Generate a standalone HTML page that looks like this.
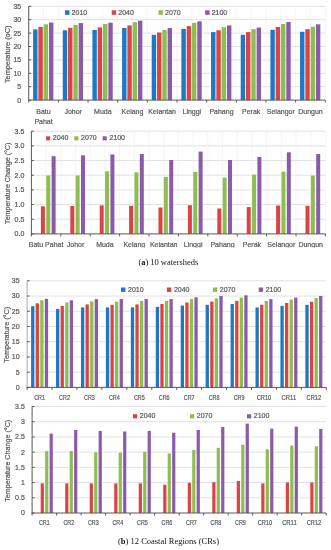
<!DOCTYPE html>
<html><head><meta charset="utf-8"><title>Temperature charts</title>
<style>
html,body{margin:0;padding:0;background:#fff;}
body{width:331px;height:550px;overflow:hidden;}
svg{display:block;filter:blur(0.4px);}
svg text{font-family:"Liberation Sans", Arial, sans-serif;}
svg text.t{stroke:#595959;stroke-width:0.2px;}
</style></head>
<body>
<svg width="331" height="550" viewBox="0 0 331 550">
<rect x="0" y="0" width="331" height="550" fill="#fff"/>
<line x1="28.70" y1="86.70" x2="325.30" y2="86.70" stroke="#D9D9D9" stroke-width="0.8"/>
<line x1="28.70" y1="73.30" x2="325.30" y2="73.30" stroke="#D9D9D9" stroke-width="0.8"/>
<line x1="28.70" y1="59.90" x2="325.30" y2="59.90" stroke="#D9D9D9" stroke-width="0.8"/>
<line x1="28.70" y1="46.50" x2="325.30" y2="46.50" stroke="#D9D9D9" stroke-width="0.8"/>
<line x1="28.70" y1="33.10" x2="325.30" y2="33.10" stroke="#D9D9D9" stroke-width="0.8"/>
<line x1="28.70" y1="19.70" x2="325.30" y2="19.70" stroke="#D9D9D9" stroke-width="0.8"/>
<line x1="28.70" y1="6.30" x2="325.30" y2="6.30" stroke="#D9D9D9" stroke-width="0.8"/>
<line x1="43.53" y1="6.30" x2="43.53" y2="100.10" stroke="#EDEDED" stroke-width="0.6"/>
<line x1="58.36" y1="6.30" x2="58.36" y2="100.10" stroke="#EDEDED" stroke-width="0.6"/>
<line x1="73.19" y1="6.30" x2="73.19" y2="100.10" stroke="#EDEDED" stroke-width="0.6"/>
<line x1="88.02" y1="6.30" x2="88.02" y2="100.10" stroke="#EDEDED" stroke-width="0.6"/>
<line x1="102.85" y1="6.30" x2="102.85" y2="100.10" stroke="#EDEDED" stroke-width="0.6"/>
<line x1="117.68" y1="6.30" x2="117.68" y2="100.10" stroke="#EDEDED" stroke-width="0.6"/>
<line x1="132.51" y1="6.30" x2="132.51" y2="100.10" stroke="#EDEDED" stroke-width="0.6"/>
<line x1="147.34" y1="6.30" x2="147.34" y2="100.10" stroke="#EDEDED" stroke-width="0.6"/>
<line x1="162.17" y1="6.30" x2="162.17" y2="100.10" stroke="#EDEDED" stroke-width="0.6"/>
<line x1="177.00" y1="6.30" x2="177.00" y2="100.10" stroke="#EDEDED" stroke-width="0.6"/>
<line x1="191.83" y1="6.30" x2="191.83" y2="100.10" stroke="#EDEDED" stroke-width="0.6"/>
<line x1="206.66" y1="6.30" x2="206.66" y2="100.10" stroke="#EDEDED" stroke-width="0.6"/>
<line x1="221.49" y1="6.30" x2="221.49" y2="100.10" stroke="#EDEDED" stroke-width="0.6"/>
<line x1="236.32" y1="6.30" x2="236.32" y2="100.10" stroke="#EDEDED" stroke-width="0.6"/>
<line x1="251.15" y1="6.30" x2="251.15" y2="100.10" stroke="#EDEDED" stroke-width="0.6"/>
<line x1="265.98" y1="6.30" x2="265.98" y2="100.10" stroke="#EDEDED" stroke-width="0.6"/>
<line x1="280.81" y1="6.30" x2="280.81" y2="100.10" stroke="#EDEDED" stroke-width="0.6"/>
<line x1="295.64" y1="6.30" x2="295.64" y2="100.10" stroke="#EDEDED" stroke-width="0.6"/>
<line x1="310.47" y1="6.30" x2="310.47" y2="100.10" stroke="#EDEDED" stroke-width="0.6"/>
<line x1="325.30" y1="6.30" x2="325.30" y2="100.10" stroke="#EDEDED" stroke-width="0.6"/>
<rect x="33.10" y="29.40" width="4.40" height="70.70" fill="#1E78C3"/>
<rect x="38.40" y="27.00" width="4.40" height="73.10" fill="#DA4444"/>
<rect x="43.70" y="24.30" width="4.40" height="75.80" fill="#8EBE52"/>
<rect x="49.00" y="22.50" width="4.40" height="77.60" fill="#8C5AAA"/>
<rect x="62.76" y="30.30" width="4.40" height="69.80" fill="#1E78C3"/>
<rect x="68.06" y="27.80" width="4.40" height="72.30" fill="#DA4444"/>
<rect x="73.36" y="24.90" width="4.40" height="75.20" fill="#8EBE52"/>
<rect x="78.66" y="23.10" width="4.40" height="77.00" fill="#8C5AAA"/>
<rect x="92.42" y="30.00" width="4.40" height="70.10" fill="#1E78C3"/>
<rect x="97.72" y="27.40" width="4.40" height="72.70" fill="#DA4444"/>
<rect x="103.02" y="24.00" width="4.40" height="76.10" fill="#8EBE52"/>
<rect x="108.32" y="22.70" width="4.40" height="77.40" fill="#8C5AAA"/>
<rect x="122.08" y="28.00" width="4.40" height="72.10" fill="#1E78C3"/>
<rect x="127.38" y="25.40" width="4.40" height="74.70" fill="#DA4444"/>
<rect x="132.68" y="22.20" width="4.40" height="77.90" fill="#8EBE52"/>
<rect x="137.98" y="20.70" width="4.40" height="79.40" fill="#8C5AAA"/>
<rect x="151.74" y="34.80" width="4.40" height="65.30" fill="#1E78C3"/>
<rect x="157.04" y="32.50" width="4.40" height="67.60" fill="#DA4444"/>
<rect x="162.34" y="30.00" width="4.40" height="70.10" fill="#8EBE52"/>
<rect x="167.64" y="28.00" width="4.40" height="72.10" fill="#8C5AAA"/>
<rect x="181.40" y="28.90" width="4.40" height="71.20" fill="#1E78C3"/>
<rect x="186.70" y="26.10" width="4.40" height="74.00" fill="#DA4444"/>
<rect x="192.00" y="22.90" width="4.40" height="77.20" fill="#8EBE52"/>
<rect x="197.30" y="21.30" width="4.40" height="78.80" fill="#8C5AAA"/>
<rect x="211.06" y="32.10" width="4.40" height="68.00" fill="#1E78C3"/>
<rect x="216.36" y="30.30" width="4.40" height="69.80" fill="#DA4444"/>
<rect x="221.66" y="27.20" width="4.40" height="72.90" fill="#8EBE52"/>
<rect x="226.96" y="25.40" width="4.40" height="74.70" fill="#8C5AAA"/>
<rect x="240.72" y="34.80" width="4.40" height="65.30" fill="#1E78C3"/>
<rect x="246.02" y="32.10" width="4.40" height="68.00" fill="#DA4444"/>
<rect x="251.32" y="29.20" width="4.40" height="70.90" fill="#8EBE52"/>
<rect x="256.62" y="27.60" width="4.40" height="72.50" fill="#8C5AAA"/>
<rect x="270.38" y="29.80" width="4.40" height="70.30" fill="#1E78C3"/>
<rect x="275.68" y="27.00" width="4.40" height="73.10" fill="#DA4444"/>
<rect x="280.98" y="24.00" width="4.40" height="76.10" fill="#8EBE52"/>
<rect x="286.28" y="22.00" width="4.40" height="78.10" fill="#8C5AAA"/>
<rect x="300.04" y="31.80" width="4.40" height="68.30" fill="#1E78C3"/>
<rect x="305.34" y="29.20" width="4.40" height="70.90" fill="#DA4444"/>
<rect x="310.64" y="26.70" width="4.40" height="73.40" fill="#8EBE52"/>
<rect x="315.94" y="24.30" width="4.40" height="75.80" fill="#8C5AAA"/>
<line x1="28.70" y1="6.30" x2="28.70" y2="100.60" stroke="#595959" stroke-width="1"/>
<line x1="28.20" y1="100.10" x2="325.30" y2="100.10" stroke="#595959" stroke-width="1"/>
<line x1="28.70" y1="100.10" x2="31.20" y2="100.10" stroke="#595959" stroke-width="1"/>
<line x1="28.70" y1="86.70" x2="31.20" y2="86.70" stroke="#595959" stroke-width="1"/>
<line x1="28.70" y1="73.30" x2="31.20" y2="73.30" stroke="#595959" stroke-width="1"/>
<line x1="28.70" y1="59.90" x2="31.20" y2="59.90" stroke="#595959" stroke-width="1"/>
<line x1="28.70" y1="46.50" x2="31.20" y2="46.50" stroke="#595959" stroke-width="1"/>
<line x1="28.70" y1="33.10" x2="31.20" y2="33.10" stroke="#595959" stroke-width="1"/>
<line x1="28.70" y1="19.70" x2="31.20" y2="19.70" stroke="#595959" stroke-width="1"/>
<line x1="28.70" y1="6.30" x2="31.20" y2="6.30" stroke="#595959" stroke-width="1"/>
<line x1="28.70" y1="100.10" x2="28.70" y2="102.60" stroke="#595959" stroke-width="1"/>
<line x1="58.36" y1="100.10" x2="58.36" y2="102.60" stroke="#595959" stroke-width="1"/>
<line x1="88.02" y1="100.10" x2="88.02" y2="102.60" stroke="#595959" stroke-width="1"/>
<line x1="117.68" y1="100.10" x2="117.68" y2="102.60" stroke="#595959" stroke-width="1"/>
<line x1="147.34" y1="100.10" x2="147.34" y2="102.60" stroke="#595959" stroke-width="1"/>
<line x1="177.00" y1="100.10" x2="177.00" y2="102.60" stroke="#595959" stroke-width="1"/>
<line x1="206.66" y1="100.10" x2="206.66" y2="102.60" stroke="#595959" stroke-width="1"/>
<line x1="236.32" y1="100.10" x2="236.32" y2="102.60" stroke="#595959" stroke-width="1"/>
<line x1="265.98" y1="100.10" x2="265.98" y2="102.60" stroke="#595959" stroke-width="1"/>
<line x1="295.64" y1="100.10" x2="295.64" y2="102.60" stroke="#595959" stroke-width="1"/>
<line x1="325.30" y1="100.10" x2="325.30" y2="102.60" stroke="#595959" stroke-width="1"/>
<text class="t" x="21.20" y="102.50" font-size="7" text-anchor="end" fill="#595959">0</text>
<text class="t" x="21.20" y="89.10" font-size="7" text-anchor="end" fill="#595959">5</text>
<text class="t" x="21.20" y="75.70" font-size="7" text-anchor="end" fill="#595959">10</text>
<text class="t" x="21.20" y="62.30" font-size="7" text-anchor="end" fill="#595959">15</text>
<text class="t" x="21.20" y="48.90" font-size="7" text-anchor="end" fill="#595959">20</text>
<text class="t" x="21.20" y="35.50" font-size="7" text-anchor="end" fill="#595959">25</text>
<text class="t" x="21.20" y="22.10" font-size="7" text-anchor="end" fill="#595959">30</text>
<text class="t" x="21.20" y="8.70" font-size="7" text-anchor="end" fill="#595959">35</text>
<text class="t" x="43.53" y="113.90" font-size="7" text-anchor="middle" fill="#595959">Batu</text>
<text class="t" x="43.53" y="123.70" font-size="7" text-anchor="middle" fill="#595959">Pahat</text>
<text class="t" x="73.19" y="113.90" font-size="7" text-anchor="middle" fill="#595959">Johor</text>
<text class="t" x="102.85" y="113.90" font-size="7" text-anchor="middle" fill="#595959">Muda</text>
<text class="t" x="132.51" y="113.90" font-size="7" text-anchor="middle" fill="#595959">Kelang</text>
<text class="t" x="162.17" y="113.90" font-size="7" text-anchor="middle" fill="#595959">Kelantan</text>
<text class="t" x="191.83" y="113.90" font-size="7" text-anchor="middle" fill="#595959">Linggi</text>
<text class="t" x="221.49" y="113.90" font-size="7" text-anchor="middle" fill="#595959">Pahang</text>
<text class="t" x="251.15" y="113.90" font-size="7" text-anchor="middle" fill="#595959">Perak</text>
<text class="t" x="280.81" y="113.90" font-size="7" text-anchor="middle" fill="#595959">Selangor</text>
<text class="t" x="310.47" y="113.90" font-size="7" text-anchor="middle" fill="#595959">Dungun</text>
<rect x="65.00" y="10.30" width="4.50" height="4.50" fill="#1E78C3"/>
<text class="t" x="71.60" y="14.90" font-size="7" text-anchor="start" fill="#595959">2010</text>
<rect x="111.70" y="10.30" width="4.50" height="4.50" fill="#DA4444"/>
<text class="t" x="118.30" y="14.90" font-size="7" text-anchor="start" fill="#595959">2040</text>
<rect x="158.40" y="10.30" width="4.50" height="4.50" fill="#8EBE52"/>
<text class="t" x="165.00" y="14.90" font-size="7" text-anchor="start" fill="#595959">2070</text>
<rect x="205.10" y="10.30" width="4.50" height="4.50" fill="#8C5AAA"/>
<text class="t" x="211.70" y="14.90" font-size="7" text-anchor="start" fill="#595959">2100</text>
<text class="t" transform="translate(9.70,54.35) rotate(-90)" x="0" y="0" font-size="6.5" text-anchor="middle" fill="#595959" textLength="57.50" lengthAdjust="spacingAndGlyphs">Temperature (oC)</text>
<line x1="31.40" y1="219.23" x2="325.40" y2="219.23" stroke="#D9D9D9" stroke-width="0.8"/>
<line x1="31.40" y1="204.56" x2="325.40" y2="204.56" stroke="#D9D9D9" stroke-width="0.8"/>
<line x1="31.40" y1="189.89" x2="325.40" y2="189.89" stroke="#D9D9D9" stroke-width="0.8"/>
<line x1="31.40" y1="175.21" x2="325.40" y2="175.21" stroke="#D9D9D9" stroke-width="0.8"/>
<line x1="31.40" y1="160.54" x2="325.40" y2="160.54" stroke="#D9D9D9" stroke-width="0.8"/>
<line x1="31.40" y1="145.87" x2="325.40" y2="145.87" stroke="#D9D9D9" stroke-width="0.8"/>
<line x1="31.40" y1="131.20" x2="325.40" y2="131.20" stroke="#D9D9D9" stroke-width="0.8"/>
<line x1="46.10" y1="131.20" x2="46.10" y2="233.90" stroke="#EDEDED" stroke-width="0.6"/>
<line x1="60.80" y1="131.20" x2="60.80" y2="233.90" stroke="#EDEDED" stroke-width="0.6"/>
<line x1="75.50" y1="131.20" x2="75.50" y2="233.90" stroke="#EDEDED" stroke-width="0.6"/>
<line x1="90.20" y1="131.20" x2="90.20" y2="233.90" stroke="#EDEDED" stroke-width="0.6"/>
<line x1="104.90" y1="131.20" x2="104.90" y2="233.90" stroke="#EDEDED" stroke-width="0.6"/>
<line x1="119.60" y1="131.20" x2="119.60" y2="233.90" stroke="#EDEDED" stroke-width="0.6"/>
<line x1="134.30" y1="131.20" x2="134.30" y2="233.90" stroke="#EDEDED" stroke-width="0.6"/>
<line x1="149.00" y1="131.20" x2="149.00" y2="233.90" stroke="#EDEDED" stroke-width="0.6"/>
<line x1="163.70" y1="131.20" x2="163.70" y2="233.90" stroke="#EDEDED" stroke-width="0.6"/>
<line x1="178.40" y1="131.20" x2="178.40" y2="233.90" stroke="#EDEDED" stroke-width="0.6"/>
<line x1="193.10" y1="131.20" x2="193.10" y2="233.90" stroke="#EDEDED" stroke-width="0.6"/>
<line x1="207.80" y1="131.20" x2="207.80" y2="233.90" stroke="#EDEDED" stroke-width="0.6"/>
<line x1="222.50" y1="131.20" x2="222.50" y2="233.90" stroke="#EDEDED" stroke-width="0.6"/>
<line x1="237.20" y1="131.20" x2="237.20" y2="233.90" stroke="#EDEDED" stroke-width="0.6"/>
<line x1="251.90" y1="131.20" x2="251.90" y2="233.90" stroke="#EDEDED" stroke-width="0.6"/>
<line x1="266.60" y1="131.20" x2="266.60" y2="233.90" stroke="#EDEDED" stroke-width="0.6"/>
<line x1="281.30" y1="131.20" x2="281.30" y2="233.90" stroke="#EDEDED" stroke-width="0.6"/>
<line x1="296.00" y1="131.20" x2="296.00" y2="233.90" stroke="#EDEDED" stroke-width="0.6"/>
<line x1="310.70" y1="131.20" x2="310.70" y2="233.90" stroke="#EDEDED" stroke-width="0.6"/>
<line x1="325.40" y1="131.20" x2="325.40" y2="233.90" stroke="#EDEDED" stroke-width="0.6"/>
<rect x="40.90" y="206.30" width="4.00" height="27.60" fill="#DA4444"/>
<rect x="46.25" y="175.50" width="4.00" height="58.40" fill="#8EBE52"/>
<rect x="51.60" y="156.20" width="4.00" height="77.70" fill="#8C5AAA"/>
<rect x="70.30" y="206.00" width="4.00" height="27.90" fill="#DA4444"/>
<rect x="75.65" y="175.50" width="4.00" height="58.40" fill="#8EBE52"/>
<rect x="81.00" y="155.30" width="4.00" height="78.60" fill="#8C5AAA"/>
<rect x="99.70" y="205.40" width="4.00" height="28.50" fill="#DA4444"/>
<rect x="105.05" y="171.30" width="4.00" height="62.60" fill="#8EBE52"/>
<rect x="110.40" y="154.40" width="4.00" height="79.50" fill="#8C5AAA"/>
<rect x="129.10" y="205.80" width="4.00" height="28.10" fill="#DA4444"/>
<rect x="134.45" y="172.30" width="4.00" height="61.60" fill="#8EBE52"/>
<rect x="139.80" y="154.00" width="4.00" height="79.90" fill="#8C5AAA"/>
<rect x="158.50" y="207.50" width="4.00" height="26.40" fill="#DA4444"/>
<rect x="163.85" y="176.90" width="4.00" height="57.00" fill="#8EBE52"/>
<rect x="169.20" y="160.00" width="4.00" height="73.90" fill="#8C5AAA"/>
<rect x="187.90" y="205.20" width="4.00" height="28.70" fill="#DA4444"/>
<rect x="193.25" y="171.90" width="4.00" height="62.00" fill="#8EBE52"/>
<rect x="198.60" y="151.60" width="4.00" height="82.30" fill="#8C5AAA"/>
<rect x="217.30" y="208.50" width="4.00" height="25.40" fill="#DA4444"/>
<rect x="222.65" y="177.60" width="4.00" height="56.30" fill="#8EBE52"/>
<rect x="228.00" y="160.00" width="4.00" height="73.90" fill="#8C5AAA"/>
<rect x="246.70" y="207.10" width="4.00" height="26.80" fill="#DA4444"/>
<rect x="252.05" y="174.60" width="4.00" height="59.30" fill="#8EBE52"/>
<rect x="257.40" y="157.00" width="4.00" height="76.90" fill="#8C5AAA"/>
<rect x="276.10" y="205.50" width="4.00" height="28.40" fill="#DA4444"/>
<rect x="281.45" y="171.60" width="4.00" height="62.30" fill="#8EBE52"/>
<rect x="286.80" y="152.30" width="4.00" height="81.60" fill="#8C5AAA"/>
<rect x="305.50" y="205.80" width="4.00" height="28.10" fill="#DA4444"/>
<rect x="310.85" y="175.60" width="4.00" height="58.30" fill="#8EBE52"/>
<rect x="316.20" y="154.00" width="4.00" height="79.90" fill="#8C5AAA"/>
<line x1="31.40" y1="131.20" x2="31.40" y2="234.40" stroke="#595959" stroke-width="1"/>
<line x1="30.90" y1="233.90" x2="325.40" y2="233.90" stroke="#595959" stroke-width="1"/>
<line x1="31.40" y1="233.90" x2="33.90" y2="233.90" stroke="#595959" stroke-width="1"/>
<line x1="31.40" y1="219.23" x2="33.90" y2="219.23" stroke="#595959" stroke-width="1"/>
<line x1="31.40" y1="204.56" x2="33.90" y2="204.56" stroke="#595959" stroke-width="1"/>
<line x1="31.40" y1="189.89" x2="33.90" y2="189.89" stroke="#595959" stroke-width="1"/>
<line x1="31.40" y1="175.21" x2="33.90" y2="175.21" stroke="#595959" stroke-width="1"/>
<line x1="31.40" y1="160.54" x2="33.90" y2="160.54" stroke="#595959" stroke-width="1"/>
<line x1="31.40" y1="145.87" x2="33.90" y2="145.87" stroke="#595959" stroke-width="1"/>
<line x1="31.40" y1="131.20" x2="33.90" y2="131.20" stroke="#595959" stroke-width="1"/>
<line x1="31.40" y1="233.90" x2="31.40" y2="236.40" stroke="#595959" stroke-width="1"/>
<line x1="60.80" y1="233.90" x2="60.80" y2="236.40" stroke="#595959" stroke-width="1"/>
<line x1="90.20" y1="233.90" x2="90.20" y2="236.40" stroke="#595959" stroke-width="1"/>
<line x1="119.60" y1="233.90" x2="119.60" y2="236.40" stroke="#595959" stroke-width="1"/>
<line x1="149.00" y1="233.90" x2="149.00" y2="236.40" stroke="#595959" stroke-width="1"/>
<line x1="178.40" y1="233.90" x2="178.40" y2="236.40" stroke="#595959" stroke-width="1"/>
<line x1="207.80" y1="233.90" x2="207.80" y2="236.40" stroke="#595959" stroke-width="1"/>
<line x1="237.20" y1="233.90" x2="237.20" y2="236.40" stroke="#595959" stroke-width="1"/>
<line x1="266.60" y1="233.90" x2="266.60" y2="236.40" stroke="#595959" stroke-width="1"/>
<line x1="296.00" y1="233.90" x2="296.00" y2="236.40" stroke="#595959" stroke-width="1"/>
<line x1="325.40" y1="233.90" x2="325.40" y2="236.40" stroke="#595959" stroke-width="1"/>
<text class="t" x="24.30" y="236.30" font-size="7" text-anchor="end" fill="#595959">0.0</text>
<text class="t" x="24.30" y="221.63" font-size="7" text-anchor="end" fill="#595959">0.5</text>
<text class="t" x="24.30" y="206.96" font-size="7" text-anchor="end" fill="#595959">1.0</text>
<text class="t" x="24.30" y="192.29" font-size="7" text-anchor="end" fill="#595959">1.5</text>
<text class="t" x="24.30" y="177.61" font-size="7" text-anchor="end" fill="#595959">2.0</text>
<text class="t" x="24.30" y="162.94" font-size="7" text-anchor="end" fill="#595959">2.5</text>
<text class="t" x="24.30" y="148.27" font-size="7" text-anchor="end" fill="#595959">3.0</text>
<text class="t" x="24.30" y="133.60" font-size="7" text-anchor="end" fill="#595959">3.5</text>
<clipPath id="c2"><rect x="0" y="236" width="331" height="11.5"/></clipPath><g clip-path="url(#c2)">
<text class="t" x="46.10" y="247.20" font-size="7" text-anchor="middle" fill="#595959">Batu Pahat</text>
<text class="t" x="75.50" y="247.20" font-size="7" text-anchor="middle" fill="#595959">Johor</text>
<text class="t" x="104.90" y="247.20" font-size="7" text-anchor="middle" fill="#595959">Muda</text>
<text class="t" x="134.30" y="247.20" font-size="7" text-anchor="middle" fill="#595959">Kelang</text>
<text class="t" x="163.70" y="247.20" font-size="7" text-anchor="middle" fill="#595959">Kelantan</text>
<text class="t" x="193.10" y="247.20" font-size="7" text-anchor="middle" fill="#595959">Linggi</text>
<text class="t" x="222.50" y="247.20" font-size="7" text-anchor="middle" fill="#595959">Pahang</text>
<text class="t" x="251.90" y="247.20" font-size="7" text-anchor="middle" fill="#595959">Perak</text>
<text class="t" x="281.30" y="247.20" font-size="7" text-anchor="middle" fill="#595959">Selangor</text>
<text class="t" x="310.70" y="247.20" font-size="7" text-anchor="middle" fill="#595959">Dungun</text>
</g>
<rect x="40.00" y="132.00" width="91.00" height="12.00" fill="#fff"/>
<rect x="46.00" y="136.30" width="4.10" height="4.10" fill="#DA4444"/>
<text class="t" x="52.80" y="140.40" font-size="7" text-anchor="start" fill="#595959">2040</text>
<rect x="74.30" y="136.30" width="4.10" height="4.10" fill="#8EBE52"/>
<text class="t" x="81.10" y="140.40" font-size="7" text-anchor="start" fill="#595959">2070</text>
<rect x="102.60" y="136.30" width="4.10" height="4.10" fill="#8C5AAA"/>
<text class="t" x="109.40" y="140.40" font-size="7" text-anchor="start" fill="#595959">2100</text>
<text class="t" transform="translate(9.50,183.30) rotate(-90)" x="0" y="0" font-size="6.5" text-anchor="middle" fill="#595959" textLength="81.20" lengthAdjust="spacingAndGlyphs">Temperature Change (°C)</text>
<line x1="27.10" y1="372.17" x2="326.30" y2="372.17" stroke="#D9D9D9" stroke-width="0.8"/>
<line x1="27.10" y1="356.94" x2="326.30" y2="356.94" stroke="#D9D9D9" stroke-width="0.8"/>
<line x1="27.10" y1="341.71" x2="326.30" y2="341.71" stroke="#D9D9D9" stroke-width="0.8"/>
<line x1="27.10" y1="326.49" x2="326.30" y2="326.49" stroke="#D9D9D9" stroke-width="0.8"/>
<line x1="27.10" y1="311.26" x2="326.30" y2="311.26" stroke="#D9D9D9" stroke-width="0.8"/>
<line x1="27.10" y1="296.03" x2="326.30" y2="296.03" stroke="#D9D9D9" stroke-width="0.8"/>
<line x1="27.10" y1="280.80" x2="326.30" y2="280.80" stroke="#D9D9D9" stroke-width="0.8"/>
<rect x="31.10" y="306.20" width="3.30" height="81.20" fill="#1E78C3"/>
<rect x="35.67" y="303.30" width="3.30" height="84.10" fill="#DA4444"/>
<rect x="40.24" y="300.30" width="3.30" height="87.10" fill="#8EBE52"/>
<rect x="44.81" y="298.80" width="3.30" height="88.60" fill="#8C5AAA"/>
<rect x="56.03" y="308.90" width="3.30" height="78.50" fill="#1E78C3"/>
<rect x="60.60" y="305.90" width="3.30" height="81.50" fill="#DA4444"/>
<rect x="65.17" y="302.50" width="3.30" height="84.90" fill="#8EBE52"/>
<rect x="69.74" y="300.30" width="3.30" height="87.10" fill="#8C5AAA"/>
<rect x="80.97" y="307.40" width="3.30" height="80.00" fill="#1E78C3"/>
<rect x="85.54" y="304.40" width="3.30" height="83.00" fill="#DA4444"/>
<rect x="90.11" y="301.30" width="3.30" height="86.10" fill="#8EBE52"/>
<rect x="94.68" y="299.10" width="3.30" height="88.30" fill="#8C5AAA"/>
<rect x="105.90" y="307.40" width="3.30" height="80.00" fill="#1E78C3"/>
<rect x="110.47" y="304.80" width="3.30" height="82.60" fill="#DA4444"/>
<rect x="115.04" y="301.80" width="3.30" height="85.60" fill="#8EBE52"/>
<rect x="119.61" y="299.10" width="3.30" height="88.30" fill="#8C5AAA"/>
<rect x="130.83" y="307.40" width="3.30" height="80.00" fill="#1E78C3"/>
<rect x="135.40" y="304.40" width="3.30" height="83.00" fill="#DA4444"/>
<rect x="139.97" y="301.00" width="3.30" height="86.40" fill="#8EBE52"/>
<rect x="144.54" y="299.10" width="3.30" height="88.30" fill="#8C5AAA"/>
<rect x="155.77" y="306.90" width="3.30" height="80.50" fill="#1E78C3"/>
<rect x="160.34" y="304.00" width="3.30" height="83.40" fill="#DA4444"/>
<rect x="164.91" y="301.00" width="3.30" height="86.40" fill="#8EBE52"/>
<rect x="169.48" y="299.10" width="3.30" height="88.30" fill="#8C5AAA"/>
<rect x="180.70" y="305.60" width="3.30" height="81.80" fill="#1E78C3"/>
<rect x="185.27" y="302.50" width="3.30" height="84.90" fill="#DA4444"/>
<rect x="189.84" y="299.10" width="3.30" height="88.30" fill="#8EBE52"/>
<rect x="194.41" y="297.30" width="3.30" height="90.10" fill="#8C5AAA"/>
<rect x="205.63" y="304.80" width="3.30" height="82.60" fill="#1E78C3"/>
<rect x="210.20" y="301.60" width="3.30" height="85.80" fill="#DA4444"/>
<rect x="214.77" y="298.30" width="3.30" height="89.10" fill="#8EBE52"/>
<rect x="219.34" y="296.00" width="3.30" height="91.40" fill="#8C5AAA"/>
<rect x="230.57" y="304.00" width="3.30" height="83.40" fill="#1E78C3"/>
<rect x="235.14" y="300.90" width="3.30" height="86.50" fill="#DA4444"/>
<rect x="239.71" y="297.60" width="3.30" height="89.80" fill="#8EBE52"/>
<rect x="244.28" y="295.30" width="3.30" height="92.10" fill="#8C5AAA"/>
<rect x="255.50" y="307.40" width="3.30" height="80.00" fill="#1E78C3"/>
<rect x="260.07" y="304.80" width="3.30" height="82.60" fill="#DA4444"/>
<rect x="264.64" y="301.00" width="3.30" height="86.40" fill="#8EBE52"/>
<rect x="269.21" y="299.10" width="3.30" height="88.30" fill="#8C5AAA"/>
<rect x="280.43" y="305.90" width="3.30" height="81.50" fill="#1E78C3"/>
<rect x="285.00" y="303.00" width="3.30" height="84.40" fill="#DA4444"/>
<rect x="289.57" y="299.60" width="3.30" height="87.80" fill="#8EBE52"/>
<rect x="294.14" y="297.60" width="3.30" height="89.80" fill="#8C5AAA"/>
<rect x="305.37" y="304.80" width="3.30" height="82.60" fill="#1E78C3"/>
<rect x="309.94" y="301.80" width="3.30" height="85.60" fill="#DA4444"/>
<rect x="314.51" y="298.10" width="3.30" height="89.30" fill="#8EBE52"/>
<rect x="319.08" y="296.00" width="3.30" height="91.40" fill="#8C5AAA"/>
<line x1="27.10" y1="280.80" x2="27.10" y2="387.90" stroke="#A6A6A6" stroke-width="1"/>
<line x1="26.60" y1="387.40" x2="326.30" y2="387.40" stroke="#595959" stroke-width="1"/>
<line x1="27.10" y1="387.40" x2="29.60" y2="387.40" stroke="#595959" stroke-width="1"/>
<line x1="27.10" y1="372.17" x2="29.60" y2="372.17" stroke="#595959" stroke-width="1"/>
<line x1="27.10" y1="356.94" x2="29.60" y2="356.94" stroke="#595959" stroke-width="1"/>
<line x1="27.10" y1="341.71" x2="29.60" y2="341.71" stroke="#595959" stroke-width="1"/>
<line x1="27.10" y1="326.49" x2="29.60" y2="326.49" stroke="#595959" stroke-width="1"/>
<line x1="27.10" y1="311.26" x2="29.60" y2="311.26" stroke="#595959" stroke-width="1"/>
<line x1="27.10" y1="296.03" x2="29.60" y2="296.03" stroke="#595959" stroke-width="1"/>
<line x1="27.10" y1="280.80" x2="29.60" y2="280.80" stroke="#595959" stroke-width="1"/>
<line x1="27.10" y1="387.40" x2="27.10" y2="389.90" stroke="#595959" stroke-width="1"/>
<line x1="52.03" y1="387.40" x2="52.03" y2="389.90" stroke="#595959" stroke-width="1"/>
<line x1="76.97" y1="387.40" x2="76.97" y2="389.90" stroke="#595959" stroke-width="1"/>
<line x1="101.90" y1="387.40" x2="101.90" y2="389.90" stroke="#595959" stroke-width="1"/>
<line x1="126.83" y1="387.40" x2="126.83" y2="389.90" stroke="#595959" stroke-width="1"/>
<line x1="151.77" y1="387.40" x2="151.77" y2="389.90" stroke="#595959" stroke-width="1"/>
<line x1="176.70" y1="387.40" x2="176.70" y2="389.90" stroke="#595959" stroke-width="1"/>
<line x1="201.63" y1="387.40" x2="201.63" y2="389.90" stroke="#595959" stroke-width="1"/>
<line x1="226.57" y1="387.40" x2="226.57" y2="389.90" stroke="#595959" stroke-width="1"/>
<line x1="251.50" y1="387.40" x2="251.50" y2="389.90" stroke="#595959" stroke-width="1"/>
<line x1="276.43" y1="387.40" x2="276.43" y2="389.90" stroke="#595959" stroke-width="1"/>
<line x1="301.37" y1="387.40" x2="301.37" y2="389.90" stroke="#595959" stroke-width="1"/>
<line x1="326.30" y1="387.40" x2="326.30" y2="389.90" stroke="#595959" stroke-width="1"/>
<text class="t" x="19.60" y="389.80" font-size="7" text-anchor="end" fill="#595959">0</text>
<text class="t" x="19.60" y="374.57" font-size="7" text-anchor="end" fill="#595959">5</text>
<text class="t" x="19.60" y="359.34" font-size="7" text-anchor="end" fill="#595959">10</text>
<text class="t" x="19.60" y="344.11" font-size="7" text-anchor="end" fill="#595959">15</text>
<text class="t" x="19.60" y="328.89" font-size="7" text-anchor="end" fill="#595959">20</text>
<text class="t" x="19.60" y="313.66" font-size="7" text-anchor="end" fill="#595959">25</text>
<text class="t" x="19.60" y="298.43" font-size="7" text-anchor="end" fill="#595959">30</text>
<text class="t" x="19.60" y="283.20" font-size="7" text-anchor="end" fill="#595959">35</text>
<text class="t" x="39.57" y="399.50" font-size="6.7" text-anchor="middle" fill="#595959" textLength="10.80" lengthAdjust="spacingAndGlyphs">CR1</text>
<text class="t" x="64.50" y="399.50" font-size="6.7" text-anchor="middle" fill="#595959" textLength="10.80" lengthAdjust="spacingAndGlyphs">CR2</text>
<text class="t" x="89.43" y="399.50" font-size="6.7" text-anchor="middle" fill="#595959" textLength="10.80" lengthAdjust="spacingAndGlyphs">CR3</text>
<text class="t" x="114.37" y="399.50" font-size="6.7" text-anchor="middle" fill="#595959" textLength="10.80" lengthAdjust="spacingAndGlyphs">CR4</text>
<text class="t" x="139.30" y="399.50" font-size="6.7" text-anchor="middle" fill="#595959" textLength="10.80" lengthAdjust="spacingAndGlyphs">CR5</text>
<text class="t" x="164.23" y="399.50" font-size="6.7" text-anchor="middle" fill="#595959" textLength="10.80" lengthAdjust="spacingAndGlyphs">CR6</text>
<text class="t" x="189.17" y="399.50" font-size="6.7" text-anchor="middle" fill="#595959" textLength="10.80" lengthAdjust="spacingAndGlyphs">CR7</text>
<text class="t" x="214.10" y="399.50" font-size="6.7" text-anchor="middle" fill="#595959" textLength="10.80" lengthAdjust="spacingAndGlyphs">CR8</text>
<text class="t" x="239.03" y="399.50" font-size="6.7" text-anchor="middle" fill="#595959" textLength="10.80" lengthAdjust="spacingAndGlyphs">CR9</text>
<text class="t" x="263.97" y="399.50" font-size="6.7" text-anchor="middle" fill="#595959" textLength="14.60" lengthAdjust="spacingAndGlyphs">CR10</text>
<text class="t" x="288.90" y="399.50" font-size="6.7" text-anchor="middle" fill="#595959" textLength="14.60" lengthAdjust="spacingAndGlyphs">CR11</text>
<text class="t" x="313.83" y="399.50" font-size="6.7" text-anchor="middle" fill="#595959" textLength="14.60" lengthAdjust="spacingAndGlyphs">CR12</text>
<rect x="121.00" y="287.50" width="4.40" height="4.40" fill="#1E78C3"/>
<text class="t" x="128.00" y="292.20" font-size="7" text-anchor="start" fill="#595959">2010</text>
<rect x="166.90" y="287.50" width="4.40" height="4.40" fill="#DA4444"/>
<text class="t" x="173.90" y="292.20" font-size="7" text-anchor="start" fill="#595959">2040</text>
<rect x="212.80" y="287.50" width="4.40" height="4.40" fill="#8EBE52"/>
<text class="t" x="219.80" y="292.20" font-size="7" text-anchor="start" fill="#595959">2070</text>
<rect x="258.70" y="287.50" width="4.40" height="4.40" fill="#8C5AAA"/>
<text class="t" x="265.70" y="292.20" font-size="7" text-anchor="start" fill="#595959">2100</text>
<text class="t" transform="translate(9.00,334.75) rotate(-90)" x="0" y="0" font-size="6.6" text-anchor="middle" fill="#595959" textLength="55.90" lengthAdjust="spacingAndGlyphs">Temperature (°C)</text>
<line x1="32.10" y1="497.79" x2="326.20" y2="497.79" stroke="#D9D9D9" stroke-width="0.8"/>
<line x1="32.10" y1="482.57" x2="326.20" y2="482.57" stroke="#D9D9D9" stroke-width="0.8"/>
<line x1="32.10" y1="467.36" x2="326.20" y2="467.36" stroke="#D9D9D9" stroke-width="0.8"/>
<line x1="32.10" y1="452.14" x2="326.20" y2="452.14" stroke="#D9D9D9" stroke-width="0.8"/>
<line x1="32.10" y1="436.93" x2="326.20" y2="436.93" stroke="#D9D9D9" stroke-width="0.8"/>
<line x1="32.10" y1="421.71" x2="326.20" y2="421.71" stroke="#D9D9D9" stroke-width="0.8"/>
<line x1="32.10" y1="406.50" x2="326.20" y2="406.50" stroke="#D9D9D9" stroke-width="0.8"/>
<rect x="40.70" y="483.40" width="3.20" height="29.60" fill="#DA4444"/>
<rect x="45.15" y="451.10" width="3.20" height="61.90" fill="#8EBE52"/>
<rect x="49.60" y="433.60" width="3.20" height="79.40" fill="#8C5AAA"/>
<rect x="65.21" y="483.40" width="3.20" height="29.60" fill="#DA4444"/>
<rect x="69.66" y="451.10" width="3.20" height="61.90" fill="#8EBE52"/>
<rect x="74.11" y="430.00" width="3.20" height="83.00" fill="#8C5AAA"/>
<rect x="89.72" y="483.40" width="3.20" height="29.60" fill="#DA4444"/>
<rect x="94.17" y="452.30" width="3.20" height="60.70" fill="#8EBE52"/>
<rect x="98.62" y="430.90" width="3.20" height="82.10" fill="#8C5AAA"/>
<rect x="114.23" y="483.40" width="3.20" height="29.60" fill="#DA4444"/>
<rect x="118.68" y="452.60" width="3.20" height="60.40" fill="#8EBE52"/>
<rect x="123.12" y="431.50" width="3.20" height="81.50" fill="#8C5AAA"/>
<rect x="138.73" y="483.40" width="3.20" height="29.60" fill="#DA4444"/>
<rect x="143.18" y="451.70" width="3.20" height="61.30" fill="#8EBE52"/>
<rect x="147.63" y="430.90" width="3.20" height="82.10" fill="#8C5AAA"/>
<rect x="163.24" y="484.70" width="3.20" height="28.30" fill="#DA4444"/>
<rect x="167.69" y="453.50" width="3.20" height="59.50" fill="#8EBE52"/>
<rect x="172.14" y="432.70" width="3.20" height="80.30" fill="#8C5AAA"/>
<rect x="187.75" y="482.80" width="3.20" height="30.20" fill="#DA4444"/>
<rect x="192.20" y="449.90" width="3.20" height="63.10" fill="#8EBE52"/>
<rect x="196.65" y="430.00" width="3.20" height="83.00" fill="#8C5AAA"/>
<rect x="212.26" y="482.20" width="3.20" height="30.80" fill="#DA4444"/>
<rect x="216.71" y="447.80" width="3.20" height="65.20" fill="#8EBE52"/>
<rect x="221.16" y="427.00" width="3.20" height="86.00" fill="#8C5AAA"/>
<rect x="236.77" y="481.00" width="3.20" height="32.00" fill="#DA4444"/>
<rect x="241.22" y="444.70" width="3.20" height="68.30" fill="#8EBE52"/>
<rect x="245.67" y="423.60" width="3.20" height="89.40" fill="#8C5AAA"/>
<rect x="261.27" y="483.40" width="3.20" height="29.60" fill="#DA4444"/>
<rect x="265.72" y="449.30" width="3.20" height="63.70" fill="#8EBE52"/>
<rect x="270.17" y="428.70" width="3.20" height="84.30" fill="#8C5AAA"/>
<rect x="285.78" y="482.50" width="3.20" height="30.50" fill="#DA4444"/>
<rect x="290.23" y="445.60" width="3.20" height="67.40" fill="#8EBE52"/>
<rect x="294.68" y="426.60" width="3.20" height="86.40" fill="#8C5AAA"/>
<rect x="310.29" y="482.50" width="3.20" height="30.50" fill="#DA4444"/>
<rect x="314.74" y="446.30" width="3.20" height="66.70" fill="#8EBE52"/>
<rect x="319.19" y="429.00" width="3.20" height="84.00" fill="#8C5AAA"/>
<line x1="32.10" y1="406.50" x2="32.10" y2="513.50" stroke="#595959" stroke-width="1"/>
<line x1="31.60" y1="513.00" x2="326.20" y2="513.00" stroke="#595959" stroke-width="1"/>
<line x1="32.10" y1="513.00" x2="34.60" y2="513.00" stroke="#595959" stroke-width="1"/>
<line x1="32.10" y1="497.79" x2="34.60" y2="497.79" stroke="#595959" stroke-width="1"/>
<line x1="32.10" y1="482.57" x2="34.60" y2="482.57" stroke="#595959" stroke-width="1"/>
<line x1="32.10" y1="467.36" x2="34.60" y2="467.36" stroke="#595959" stroke-width="1"/>
<line x1="32.10" y1="452.14" x2="34.60" y2="452.14" stroke="#595959" stroke-width="1"/>
<line x1="32.10" y1="436.93" x2="34.60" y2="436.93" stroke="#595959" stroke-width="1"/>
<line x1="32.10" y1="421.71" x2="34.60" y2="421.71" stroke="#595959" stroke-width="1"/>
<line x1="32.10" y1="406.50" x2="34.60" y2="406.50" stroke="#595959" stroke-width="1"/>
<line x1="32.10" y1="513.00" x2="32.10" y2="515.50" stroke="#595959" stroke-width="1"/>
<line x1="56.61" y1="513.00" x2="56.61" y2="515.50" stroke="#595959" stroke-width="1"/>
<line x1="81.12" y1="513.00" x2="81.12" y2="515.50" stroke="#595959" stroke-width="1"/>
<line x1="105.62" y1="513.00" x2="105.62" y2="515.50" stroke="#595959" stroke-width="1"/>
<line x1="130.13" y1="513.00" x2="130.13" y2="515.50" stroke="#595959" stroke-width="1"/>
<line x1="154.64" y1="513.00" x2="154.64" y2="515.50" stroke="#595959" stroke-width="1"/>
<line x1="179.15" y1="513.00" x2="179.15" y2="515.50" stroke="#595959" stroke-width="1"/>
<line x1="203.66" y1="513.00" x2="203.66" y2="515.50" stroke="#595959" stroke-width="1"/>
<line x1="228.17" y1="513.00" x2="228.17" y2="515.50" stroke="#595959" stroke-width="1"/>
<line x1="252.67" y1="513.00" x2="252.67" y2="515.50" stroke="#595959" stroke-width="1"/>
<line x1="277.18" y1="513.00" x2="277.18" y2="515.50" stroke="#595959" stroke-width="1"/>
<line x1="301.69" y1="513.00" x2="301.69" y2="515.50" stroke="#595959" stroke-width="1"/>
<line x1="326.20" y1="513.00" x2="326.20" y2="515.50" stroke="#595959" stroke-width="1"/>
<text class="t" x="24.80" y="515.40" font-size="7" text-anchor="end" fill="#595959">0</text>
<text class="t" x="24.80" y="500.19" font-size="7" text-anchor="end" fill="#595959">0.5</text>
<text class="t" x="24.80" y="484.97" font-size="7" text-anchor="end" fill="#595959">1</text>
<text class="t" x="24.80" y="469.76" font-size="7" text-anchor="end" fill="#595959">1.5</text>
<text class="t" x="24.80" y="454.54" font-size="7" text-anchor="end" fill="#595959">2</text>
<text class="t" x="24.80" y="439.33" font-size="7" text-anchor="end" fill="#595959">2.5</text>
<text class="t" x="24.80" y="424.11" font-size="7" text-anchor="end" fill="#595959">3</text>
<text class="t" x="24.80" y="408.90" font-size="7" text-anchor="end" fill="#595959">3.5</text>
<text class="t" x="44.35" y="524.80" font-size="6.7" text-anchor="middle" fill="#595959" textLength="10.80" lengthAdjust="spacingAndGlyphs">CR1</text>
<text class="t" x="68.86" y="524.80" font-size="6.7" text-anchor="middle" fill="#595959" textLength="10.80" lengthAdjust="spacingAndGlyphs">CR2</text>
<text class="t" x="93.37" y="524.80" font-size="6.7" text-anchor="middle" fill="#595959" textLength="10.80" lengthAdjust="spacingAndGlyphs">CR3</text>
<text class="t" x="117.88" y="524.80" font-size="6.7" text-anchor="middle" fill="#595959" textLength="10.80" lengthAdjust="spacingAndGlyphs">CR4</text>
<text class="t" x="142.39" y="524.80" font-size="6.7" text-anchor="middle" fill="#595959" textLength="10.80" lengthAdjust="spacingAndGlyphs">CR5</text>
<text class="t" x="166.90" y="524.80" font-size="6.7" text-anchor="middle" fill="#595959" textLength="10.80" lengthAdjust="spacingAndGlyphs">CR6</text>
<text class="t" x="191.40" y="524.80" font-size="6.7" text-anchor="middle" fill="#595959" textLength="10.80" lengthAdjust="spacingAndGlyphs">CR7</text>
<text class="t" x="215.91" y="524.80" font-size="6.7" text-anchor="middle" fill="#595959" textLength="10.80" lengthAdjust="spacingAndGlyphs">CR8</text>
<text class="t" x="240.42" y="524.80" font-size="6.7" text-anchor="middle" fill="#595959" textLength="10.80" lengthAdjust="spacingAndGlyphs">CR9</text>
<text class="t" x="264.93" y="524.80" font-size="6.7" text-anchor="middle" fill="#595959" textLength="14.60" lengthAdjust="spacingAndGlyphs">CR10</text>
<text class="t" x="289.44" y="524.80" font-size="6.7" text-anchor="middle" fill="#595959" textLength="14.60" lengthAdjust="spacingAndGlyphs">CR11</text>
<text class="t" x="313.95" y="524.80" font-size="6.7" text-anchor="middle" fill="#595959" textLength="14.60" lengthAdjust="spacingAndGlyphs">CR12</text>
<rect x="133.00" y="414.20" width="4.20" height="4.20" fill="#DA4444"/>
<text class="t" x="139.80" y="418.20" font-size="7" text-anchor="start" fill="#595959">2040</text>
<rect x="190.00" y="414.20" width="4.20" height="4.20" fill="#8EBE52"/>
<text class="t" x="196.80" y="418.20" font-size="7" text-anchor="start" fill="#595959">2070</text>
<rect x="247.00" y="414.20" width="4.20" height="4.20" fill="#8C5AAA"/>
<text class="t" x="253.80" y="418.20" font-size="7" text-anchor="start" fill="#595959">2100</text>
<text class="t" transform="translate(10.30,460.80) rotate(-90)" x="0" y="0" font-size="6.6" text-anchor="middle" fill="#595959" textLength="82.00" lengthAdjust="spacingAndGlyphs">Temperature Change (°C)</text>
<text x="138.4" y="265.1" style='font-family:"Liberation Serif", "Times New Roman", serif' font-size="9.2" fill="#111" textLength="59.9" lengthAdjust="spacingAndGlyphs">(<tspan font-weight="bold">a</tspan>) 10 watersheds</text>
<text x="118.0" y="544.2" style='font-family:"Liberation Serif", "Times New Roman", serif' font-size="9.2" fill="#111" textLength="101.0" lengthAdjust="spacingAndGlyphs">(<tspan font-weight="bold">b</tspan>) 12 Coastal Regions (CRs)</text>
</svg>
</body></html>
